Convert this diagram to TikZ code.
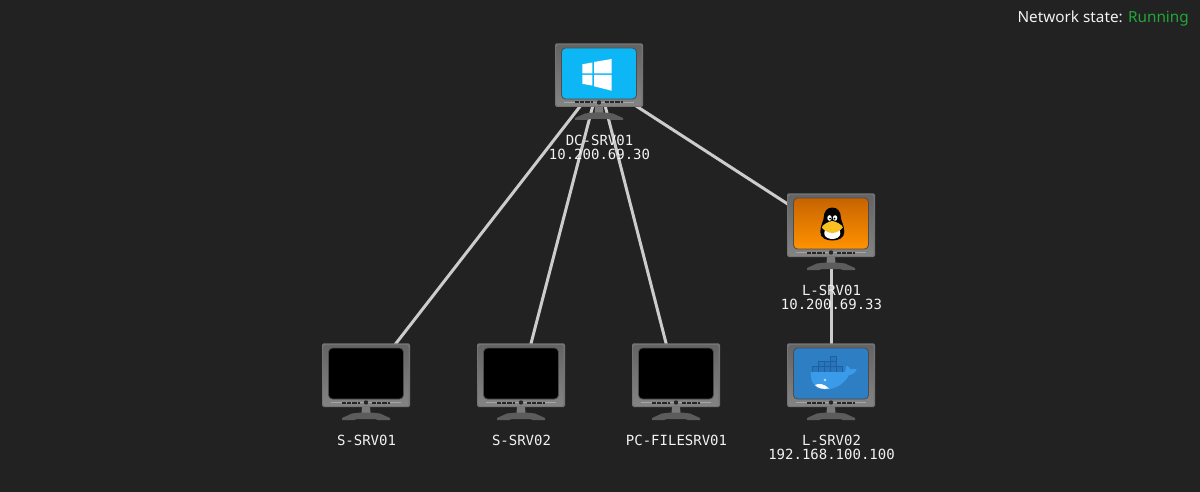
\documentclass[tikz,border=0pt]{standalone}
\usepackage{fontspec}
\setmainfont{Noto Sans}
\newfontfamily\labelmono{DejaVu Sans Mono}
\definecolor{bgc}{HTML}{222222}
\definecolor{linkc}{HTML}{CCCCCC}
\definecolor{textc}{HTML}{F2F2F2}
\definecolor{runc}{HTML}{22A63A}
\definecolor{winblue}{HTML}{0DB7F5}
\definecolor{dockbg}{HTML}{2E7EC4}
\definecolor{whale}{HTML}{3A9BE8}
\definecolor{boxc}{HTML}{2A74BC}
\definecolor{boxedge}{HTML}{1C5FA3}
\definecolor{tuxy}{HTML}{F8C020}
\definecolor{frameout}{HTML}{747474}
\definecolor{framein}{HTML}{646464}
\definecolor{framelow}{HTML}{848484}
\definecolor{standc}{HTML}{5C5C5C}
\definecolor{neckc}{HTML}{7A7A7A}
\tikzset{
  x=1pt,y=-1pt,
  anchorbox/.style={minimum width=88pt,minimum height=78pt,inner sep=0pt,draw=none},
  link/.style={draw=linkc,line width=3pt},
  caption/.style={font=\labelmono\fontsize{14}{14}\selectfont,text=textc,align=center,anchor=north,inner sep=0pt},
  pics/monitor/.style n args={2}{code={
    \path[fill=frameout,rounded corners=1.5pt] (-44,-38.7) rectangle (44,25);
    \path[top color=framein,bottom color=framelow,rounded corners=1.5pt] (-42.5,-37) rectangle (42.5,24);
    \path[top color=#1,bottom color=#2,draw=black!70!white,line width=.8pt,rounded corners=4pt] (-37.5,-34) rectangle (37.5,17);
    \draw[black!35!white,line width=.6pt] (-35,20.5) -- (35,20.5);
    \draw[black!85!white,line width=2pt,dash pattern=on 4.2pt off 1pt] (-24,20.5) -- (-6,20.5) (6,20.5) -- (24,20.5);
    \fill[black!85!white] (0,20.5) circle (2.2);
    \fill[neckc] (-4,25) -- (4,25) -- (4.5,31) -- (-4.5,31) -- cycle;
    \fill[standc] (-14,31.5) -- (-5,30.5) -- (5,30.5) -- (14,31.5) -- (24,36) -- (24,38) -- (12,38) -- (9,37) -- (-9,37) -- (-12,38) -- (-24,38) -- (-24,36) -- cycle;
  }},
  pics/winlogo/.style={code={
    \fill[white] (-16.7,-17.7) -- (-6.7,-19.5) -- (-6.7,-8.7) -- (-16.7,-8.7) -- cycle;
    \fill[white] (-5,-20) -- (12.7,-23) -- (12.7,-8.7) -- (-5,-8.7) -- cycle;
    \fill[white] (-16.7,-7) -- (-6.7,-7) -- (-6.7,3.6) -- (-16.7,1.8) -- cycle;
    \fill[white] (-5,-7) -- (12.7,-7) -- (12.7,8.7) -- (-5,4.3) -- cycle;
  }},
  pics/tuxlogo/.style={code={
    \begin{scope}[shift={(1.3,-8)}]
    \fill[black] (0,-16.5) .. controls (5.5,-16.5) and (8.5,-12) .. (8.5,-7) .. controls (8.5,-3) and (12,1) .. (12,8) .. controls (12,14) and (6,16.5) .. (0,16.5) .. controls (-6,16.5) and (-12,14) .. (-12,8) .. controls (-12,1) and (-8.5,-3) .. (-8.5,-7) .. controls (-8.5,-12) and (-5.5,-16.5) .. (0,-16.5) -- cycle;
    \fill[white] (0,1) .. controls (5,1) and (8.5,6) .. (8,10) .. controls (7.5,13) and (4,15) .. (0,15) .. controls (-4,15) and (-7.5,13) .. (-8,10) .. controls (-8.5,6) and (-5,1) .. (0,1) -- cycle;
    \fill[white] (-2.8,-6) ellipse (2.2 and 2.8) (2.8,-6) ellipse (2.2 and 2.8);
    \fill[black] (-2.2,-5.4) circle (1) (2.2,-5.4) circle (1);
    \fill[tuxy] (0,-3) .. controls (3,-3) and (10.5,1) .. (10.5,3.5) .. controls (9,6) and (4,9) .. (0,9) .. controls (-4,9) and (-9,6) .. (-10.5,3.5) .. controls (-10.5,1) and (-3,-3) .. (0,-3) -- cycle;
    \end{scope}
  }},
  pics/dockerlogo/.style={code={
    \foreach \bx/\by in {-18.7/-15.2,-12.7/-15.2,-6.7/-15.2,-0.7/-15.2,5.3/-15.2,-12.7/-20.6,-6.7/-20.6,-0.7/-20.6,-0.7/-26}{
      \path[fill=boxc,draw=boxedge,line width=.8pt] (\bx,\by) rectangle ++(5.8,5.2);
    }
    \path[fill=whale] (-20.3,-9.8) -- (14,-9.8) .. controls (14.5,-13) and (15,-15) .. (16,-16.5) .. controls (18,-15) and (19,-13.5) .. (19.5,-12.5) .. controls (21,-13.5) and (24,-13.5) .. (25.7,-12.5) .. controls (24.5,-9) and (21,-7) .. (18,-7) .. controls (14,1) and (5,7.5) .. (-6,7.5) .. controls (-15,7.5) and (-20.5,2) .. (-20.3,-9.8) -- cycle;
    \fill[white] (-16,3) .. controls (-12,1) and (-7,1.5) .. (-2,6.5) .. controls (-8,7.5) and (-13,6.5) .. (-16,3) -- cycle;
    \fill[white] (-6,-2) circle (1.4);
    \fill[boxedge] (-6,-2) circle (.7);
  }}
}
\begin{document}
\begin{tikzpicture}
\useasboundingbox (0,0) rectangle (1200,492);
\fill[bgc] (0,0) rectangle (1200,492);
\node[anchorbox] (dc) at (599,82) {};
\node[anchorbox] (l1) at (831,232) {};
\node[anchorbox] (s1) at (366,382) {};
\node[anchorbox] (s2) at (521,382) {};
\node[anchorbox] (pc) at (676,382) {};
\node[anchorbox] (l2) at (831,382) {};
\draw[link] (dc.center) -- (s1.center);
\draw[link] (dc.center) -- (s2.center);
\draw[link] (dc.center) -- (pc.center);
\draw[link] (dc.center) -- (l1.center);
\draw[link] (l1.center) -- (l2.center);
\pic at (dc) {monitor={winblue}{winblue}};
\pic at (dc) {winlogo};
\pic at (l1) {monitor={orange!78!black}{orange!85!yellow}};
\pic at (l1) {tuxlogo};
\pic at (s1) {monitor={black}{black}};
\pic at (s2) {monitor={black}{black}};
\pic at (pc) {monitor={black}{black}};
\pic at (l2) {monitor={dockbg}{dockbg}};
\pic at (l2) {dockerlogo};
\node[caption] (dct) at (599.5,135) {DC-SRV01\\10.200.69.30};
\node[caption] (l1t) at (831.5,285) {L-SRV01\\10.200.69.33};
\node[caption] (s1t) at (366.5,435) {S-SRV01};
\node[caption] (s2t) at (521.5,435) {S-SRV02};
\node[caption] (pct) at (676.5,435) {PC-FILESRV01};
\node[caption] (l2t) at (831.5,435) {L-SRV02\\192.168.100.100};
\node[anchor=east,inner sep=0pt,font=\fontsize{15.3}{16}\selectfont,text=textc] (state) at (1189,19) {Network state: \textcolor{runc}{Running}};
\end{tikzpicture}
\end{document}
